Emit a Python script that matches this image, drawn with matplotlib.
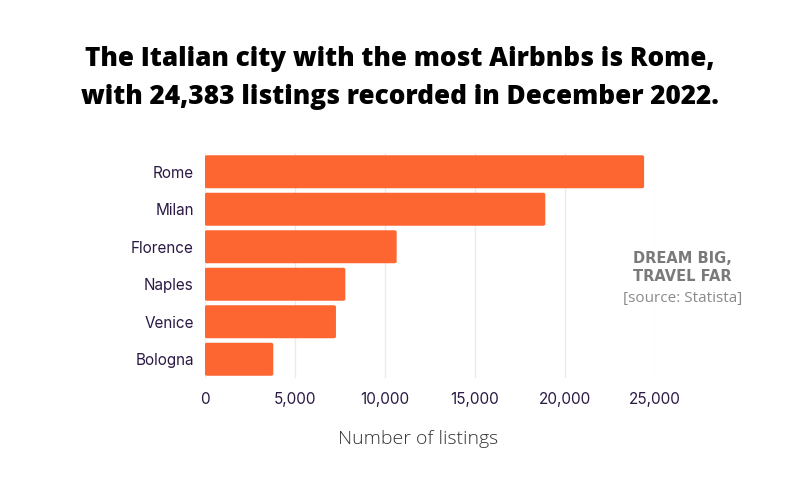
import matplotlib.pyplot as plt
from matplotlib.patches import FancyBboxPatch

cities = ['Rome', 'Milan', 'Florence', 'Naples', 'Venice', 'Bologna']
listings = [24383, 18900, 10650, 7800, 7280, 3800]
xticks = [0, 5000, 10000, 15000, 20000, 25000]

bar_color = '#fd6631'
label_color = '#2b1a45'

fig = plt.figure(figsize=(8, 5), dpi=100)
ax = fig.add_axes([0.256, 0.244, 0.563, 0.45])

ypos = list(range(len(cities)))
bars = ax.barh(ypos, listings, height=0.88, color=bar_color, zorder=3)
# soften the bar corners a little
for b in bars:
    x, y = b.get_x(), b.get_y()
    w, h = b.get_width(), b.get_height()
    b.set_visible(False)
    ax.add_patch(FancyBboxPatch((x, y), w, h, boxstyle='round,pad=0,rounding_size=150',
                                mutation_aspect=1 / 4000, color=bar_color, zorder=3,
                                linewidth=0))

ax.set_ylim(len(cities) - 0.5, -0.5)
ax.set_xlim(0, 25000)
ax.set_yticks(ypos)
ax.set_yticklabels(cities, fontsize=11, color=label_color, family='Inter')
ax.set_xticks(xticks)
ax.set_xticklabels([f'{v:,}' for v in xticks], fontsize=11, color=label_color, family='Inter')
ax.tick_params(length=0, pad=8)
ax.tick_params(axis='x', pad=10)
ax.grid(axis='x', color='#ebebeb', linewidth=1, zorder=0)
for s in ax.spines.values():
    s.set_visible(False)

ax.set_xlabel('Number of listings', fontsize=14, color='#333333', family='Open Sans',
              fontweight='light')
ax.xaxis.set_label_coords(0.473, -0.23)

fig.text(0.5, 0.845, 'The Italian city with the most Airbnbs is Rome,\nwith 24,383 listings recorded in December 2022.',
         ha='center', va='center', fontsize=18.8, fontweight='heavy', family='Open Sans',
         color='black', linespacing=1.6)

fig.text(0.853, 0.465, 'DREAM BIG,\nTRAVEL FAR', ha='center', va='center', fontsize=10.5,
         fontweight='bold', family='DejaVu Sans', color='#7a7a7a', linespacing=1.2)
fig.text(0.853, 0.403, '[source: Statista]', ha='center', va='center', fontsize=11,
         family='Open Sans', color='#8a8a8a')

fig.savefig('out.png', dpi=100, facecolor='white')
